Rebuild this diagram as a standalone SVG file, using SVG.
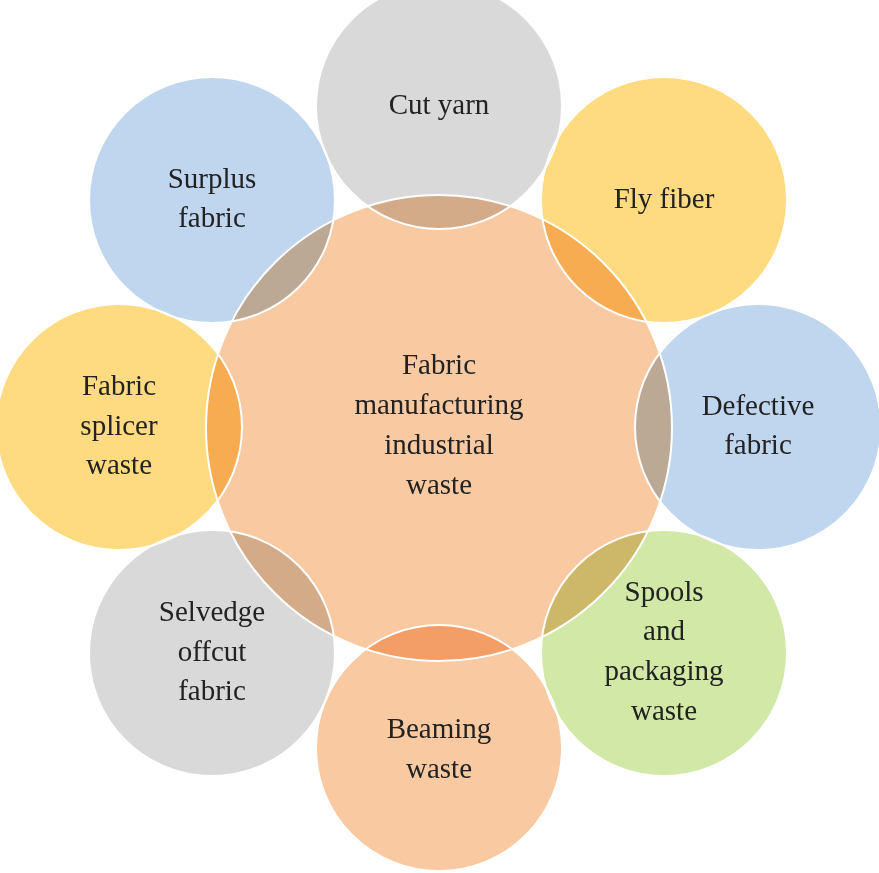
<svg xmlns="http://www.w3.org/2000/svg" width="879" height="873" viewBox="0 0 879 873">
<style>
.c{mix-blend-mode:multiply;stroke:none}
.o{fill:none;stroke:#fff;stroke-width:2}
text{font-family:"Liberation Serif",serif;font-size:29px;fill:#222;text-anchor:middle}
</style>
<rect width="879" height="873" fill="#fff"/>
<g id="shapes">
<circle class="c" cx="439" cy="428" r="233" fill="#f9c9a1"/>
<circle class="c" cx="439" cy="106" r="123" fill="#d9d9d9"/>
<circle class="c" cx="664" cy="200" r="123" fill="#fedb80"/>
<circle class="c" cx="758" cy="427" r="123" fill="#c0d6ee"/>
<circle class="c" cx="664" cy="653" r="123" fill="#d2e8a6"/>
<circle class="c" cx="439" cy="748" r="123" fill="#f9c9a1"/>
<circle class="c" cx="212" cy="653" r="123" fill="#d9d9d9"/>
<circle class="c" cx="119" cy="427" r="123" fill="#fedb80"/>
<circle class="c" cx="212" cy="200" r="123" fill="#c0d6ee"/>
</g>
<g id="outlines">
<circle class="o" cx="439" cy="428" r="233"/>
<circle class="o" cx="439" cy="106" r="123"/>
<circle class="o" cx="664" cy="200" r="123"/>
<circle class="o" cx="758" cy="427" r="123"/>
<circle class="o" cx="664" cy="653" r="123"/>
<circle class="o" cx="439" cy="748" r="123"/>
<circle class="o" cx="212" cy="653" r="123"/>
<circle class="o" cx="119" cy="427" r="123"/>
<circle class="o" cx="212" cy="200" r="123"/>
</g>
<g id="center"><text x="439" y="374">Fabric</text><text x="439" y="414">manufacturing</text><text x="439" y="454">industrial</text><text x="439" y="494">waste</text></g>
<g id="n1"><text x="439" y="114">Cut yarn</text></g>
<g id="n2"><text x="664" y="208">Fly fiber</text></g>
<g id="n3"><text x="758" y="415">Defective</text><text x="758" y="454">fabric</text></g>
<g id="n4"><text x="664" y="601">Spools</text><text x="664" y="640">and</text><text x="664" y="680">packaging</text><text x="664" y="720">waste</text></g>
<g id="n5"><text x="439" y="738">Beaming</text><text x="439" y="778">waste</text></g>
<g id="n6"><text x="212" y="621">Selvedge</text><text x="212" y="661">offcut</text><text x="212" y="700">fabric</text></g>
<g id="n7"><text x="119" y="395">Fabric</text><text x="119" y="435">splicer</text><text x="119" y="474">waste</text></g>
<g id="n8"><text x="212" y="188">Surplus</text><text x="212" y="227">fabric</text></g>
</svg>
